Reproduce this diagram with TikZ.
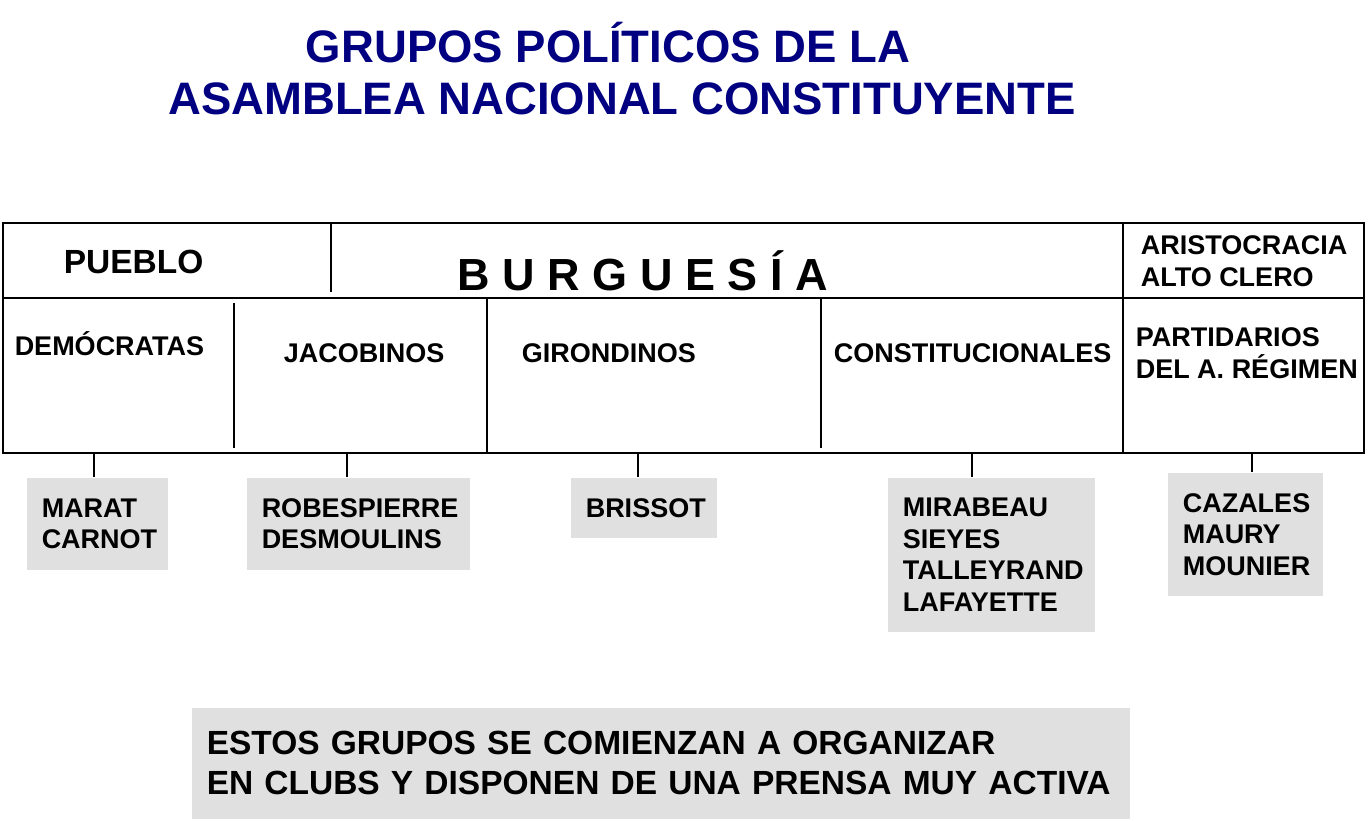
\documentclass[tikz,border=0pt]{standalone}
\usepackage{fontspec}
\setmainfont{Liberation Sans}
\definecolor{titleblue}{HTML}{000080}
\definecolor{boxgray}{HTML}{E0E0E0}
\begin{document}
\begin{tikzpicture}[x=1pt,y=-1pt,line width=1.5pt,
  titletext/.style={font=\fontsize{45.5}{52}\selectfont\bfseries, text=titleblue, inner sep=0pt, anchor=base},
  celltext/.style={font=\fontsize{27}{31.5}\selectfont\bfseries, inner sep=0pt, align=left, anchor=base west},
  namebox/.style n args={3}{fill=boxgray, anchor=north west, inner xsep=15pt, inner ysep=0pt,
    minimum width=#1, minimum height=#2, text width=#3, align=left,
    font=\fontsize{27}{31.5}\selectfont\bfseries}]
  \useasboundingbox (0,0) rectangle (1370,821);
  % title
  \node[titletext] (title1) at (608,63) {GRUPOS POLÍTICOS DE LA};
  \node[titletext] (title2) at (622,115) {ASAMBLEA NACIONAL CONSTITUYENTE};
  % table
  \draw (3,223) rectangle (1364,453);
  \draw (2,298) -- (1364,298);
  \draw (331,223) -- (331,292);
  \draw (1123,223) -- (1123,453);
  \draw (234,303) -- (234,448);
  \draw (487,298) -- (487,453);
  \draw (821,298) -- (821,448);
  \node[celltext,font=\fontsize{33.5}{38}\selectfont\bfseries] (pueblo) at (63,273) {PUEBLO};
  \node[celltext,font=\fontsize{45}{50}\selectfont\bfseries] (burguesia) at (457,290) {B U R G U E S Í A};
  \node[celltext] (aristo) at (1140,286) {ARISTOCRACIA\\ALTO CLERO};
  \node[celltext] (democ) at (14,355) {DEMÓCRATAS};
  \node[celltext] (jacob) at (283,362) {JACOBINOS};
  \node[celltext] (giron) at (521,362) {GIRONDINOS};
  \node[celltext] (const) at (833,362) {CONSTITUCIONALES};
  \node[celltext] (partid) at (1135,378) {PARTIDARIOS\\DEL A. RÉGIMEN};
  % members
  \node[namebox={141pt}{92pt}{111pt}] (marat) at (26,477) {MARAT\\CARNOT};
  \node[namebox={223pt}{92pt}{193pt}] (robes) at (246,477) {ROBESPIERRE\\DESMOULINS};
  \node[namebox={146pt}{60pt}{116pt}] (brissot) at (570,477) {BRISSOT};
  \node[namebox={207pt}{154pt}{177pt}] (mirab) at (887,477) {MIRABEAU\\SIEYES\\TALLEYRAND\\LAFAYETTE};
  \node[namebox={155pt}{123pt}{125pt}] (cazal) at (1167,472) {CAZALES\\MAURY\\MOUNIER};
  % ticks
  \coordinate (t1) at (94,453);
  \coordinate (t2) at (347,453);
  \coordinate (t3) at (638,453);
  \coordinate (t4) at (972,453);
  \coordinate (t5) at (1252,453);
  \draw (t1) -- (t1 |- marat.north);
  \draw (t2) -- (t2 |- robes.north);
  \draw (t3) -- (t3 |- brissot.north);
  \draw (t4) -- (t4 |- mirab.north);
  \draw (t5) -- (t5 |- cazal.north);
  % note
  \node[namebox={938pt}{111pt}{908pt},font=\fontsize{33.5}{40}\selectfont\bfseries] (nota) at (191,707)
    {ESTOS GRUPOS SE COMIENZAN A ORGANIZAR\\EN CLUBS Y DISPONEN DE UNA PRENSA MUY ACTIVA};
\end{tikzpicture}
\end{document}
